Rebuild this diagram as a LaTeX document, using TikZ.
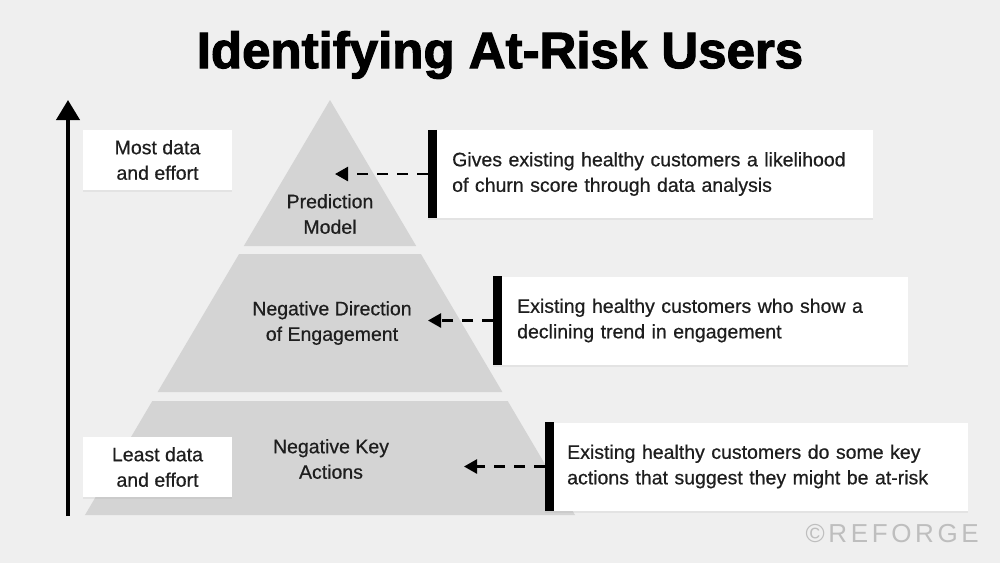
\documentclass[tikz,border=0pt]{standalone}
\usepackage{fontspec}
\setmainfont{Liberation Sans}[FakeBold=0.6]
\newfontfamily\titleface{Liberation Sans}[BoldFeatures={FakeBold=2.2}]
\newfontfamily\markfont{Liberation Sans}[LetterSpace=14]
\usetikzlibrary{arrows.meta,shadows,calc}
\definecolor{bggray}{HTML}{EFEFEF}
\definecolor{tiergray}{HTML}{D4D4D4}
\definecolor{markgray}{HTML}{BEBEBE}
\definecolor{inkgray}{HTML}{1E1E1E}
\tikzset{
    x=1pt, y=-1pt,
    bodyfont/.style = {font=\fontsize{19.5}{25.5}\selectfont, text=inkgray},
    tier/.style={fill=tiergray, draw=none},
    tierlabel/.style={bodyfont, align=center},
    sidebox/.style={
        bodyfont,
        fill=white,
        align=center,
        inner sep=0pt,
        minimum width=149pt,
        minimum height=60pt,
        drop shadow={opacity=0.10, shadow xshift=0pt, shadow yshift=-2pt}},
    notebox/.style={
        bodyfont,
        fill=white,
        anchor=west,
        align=left,
        inner xsep=24pt,
        inner ysep=0pt,
        minimum height=88pt,
        drop shadow={opacity=0.10, shadow xshift=0pt, shadow yshift=-2pt}},
    notebar/.style={line width=9pt, draw=black},
    pointer/.style={line width=2.5pt, dash pattern=on 11pt off 9pt,
        -{Triangle[length=13pt,width=14pt]}},
    axis/.style={line width=4pt, -{Triangle[length=20pt,width=23pt]}},
}

\begin{document}
\begin{tikzpicture}

  \fill[bggray] (0,0) rectangle (1000,563);
  \useasboundingbox (0,0) rectangle (1000,563);

  %% Title
  \node[font=\titleface\bfseries\fontsize{51}{60}\selectfont] (title) at (500,55) {Identifying At-Risk Users};

  %% Draw Pyramid
  \foreach \ytop/\ybot in {100/246, 254/392, 401/515}{
    \pgfmathsetmacro\tw{(\ytop-100)*0.5904}
    \pgfmathsetmacro\bw{(\ybot-100)*0.5904}
    \fill[tier] (330-\tw,\ytop) -- (330+\tw,\ytop) -- (330+\bw,\ybot) -- (330-\bw,\ybot) -- cycle;
  }
  \node[tierlabel] (prediction) at (330,214) {Prediction\\Model};
  \node[tierlabel] (direction) at (332,323) {Negative Direction\\of Engagement};
  \node[tierlabel] (keyactions) at (331,459) {Negative Key\\Actions};

  %% Draw Axis
  \coordinate (axis base) at (68,516);
  \coordinate (axis top) at (68,100);
  \draw[axis] (axis base) -- (axis top);
  \node[sidebox] (most) at (157.5,160) {Most data\\and effort};
  \node[sidebox] (least) at (157.5,467) {Least data\\and effort};

  %% Draw Notes
  \node[notebox, text width=397pt] (churn) at (428,174)
      {Gives existing healthy customers a likelihood\\of churn score through data analysis};
  \node[notebox, text width=367pt] (trend) at (493,320.5)
      {Existing healthy customers who show a\\declining trend in engagement};
  \node[notebox, text width=379pt, inner xsep=22pt] (risk) at (545,466.5)
      {Existing healthy customers do some key\\actions that suggest they might be at-risk};

  \coordinate (churn tip) at (335,174);
  \coordinate (trend tip) at (428,320.5);
  \coordinate (risk tip) at (464,466.5);
  \foreach \n in {churn, trend, risk}{
    \draw[notebar] ($(\n.north west)+(4.5,0)$) -- ($(\n.south west)+(4.5,0)$);
    \draw[pointer] (\n.west) -- (\n\space tip);
  }

  %% Watermark
  \node[text=markgray, font=\markfont\fontsize{26}{30}\selectfont, anchor=east, inner sep=0pt] (reforge) at (979,534) {©REFORGE};

\end{tikzpicture}
\end{document}
